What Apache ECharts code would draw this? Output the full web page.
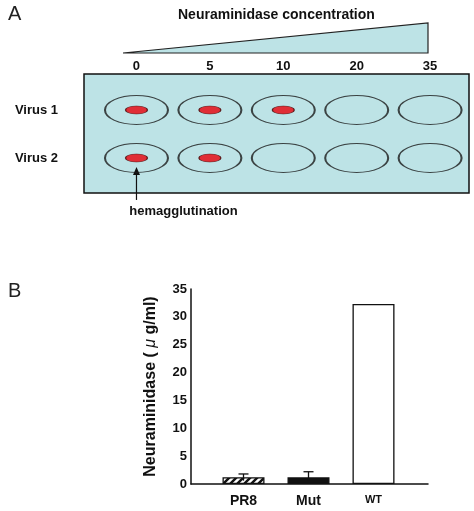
<!DOCTYPE html>
<html>
<head>
<meta charset="utf-8">
<script src="https://cdn.jsdelivr.net/npm/echarts@6/dist/echarts.min.js"></script>
<style>
  html, body { margin: 0; padding: 0; background: #fff; }
  #main { width: 474px; height: 511px; }
</style>
</head>
<body>
<div id="main"></div>
<script>
// panel A
var concLabels = ['0', '5', '10', '20', '35'];
var virusNames = ['Virus 1', 'Virus 2'];
var virus1Agg = [1, 1, 1, 0, 0]; // 1 = hemagglutination
var virus2Agg = [1, 1, 0, 0, 0];
var wedge = [0, 35];
var arrowNote = { text: 'hemagglutination', col: 0, row: 1 };

// panel B
var strains = ['PR8', 'Mut', 'WT'];
var naValues = [1.2, 1.2, 32.3];
var naErrors = [0.6, 1.0, 0];
var yTicks = [0, 5, 10, 15, 20, 25, 30, 35];

var FONT = 'Liberation Sans, Arial, sans-serif';
var PLATE = '#bde3e6';

function hatch() {
	var c = document.createElement('canvas');
	c.width = 7; c.height = 7;
	var ctx = c.getContext('2d');
	ctx.fillStyle = '#fff';
	ctx.fillRect(0, 0, 7, 7);
	ctx.strokeStyle = '#111';
	ctx.lineWidth = 2.4;
	ctx.beginPath();
	ctx.moveTo(-1, 8); ctx.lineTo(8, -1);
	ctx.moveTo(-4, 4); ctx.lineTo(4, -4);
	ctx.moveTo(3, 11); ctx.lineTo(11, 3);
	ctx.stroke();
	return c;
}

var wells = [], dots = [];
[virus1Agg, virus2Agg].forEach(function (row, r) {
	row.forEach(function (v, i) {
		wells.push([i, r]);
		if (v) dots.push([i, r]);
	});
});

var chart = echarts.init(document.getElementById('main'));

chart.setOption({
	animation: false,
	textStyle: { fontFamily: FONT },
	title: [
		{ text: 'A', left: 3, top: -1, textStyle: { fontSize: 20, fontWeight: 'normal', color: '#222', fontFamily: FONT } },
		{ text: 'Neuraminidase concentration', left: 173, top: 3, textStyle: { fontSize: 14, fontWeight: 'bold', color: '#111', fontFamily: FONT } },
		{ text: 'B', left: 3, top: 276, textStyle: { fontSize: 20, fontWeight: 'normal', color: '#222', fontFamily: FONT } }
	],
	grid: [
		{ left: 123, top: 23, width: 305, height: 30 },
		{ left: 84, top: 74, width: 385, height: 119, show: true, backgroundColor: PLATE, borderColor: '#111', borderWidth: 1.5 },
		{ left: 191, top: 289, width: 237, height: 195 },
		{ left: 211, top: 289, width: 195, height: 195 }
	],
	xAxis: [
		{ gridIndex: 0, type: 'value', min: 0, max: 35, show: false },
		{
			gridIndex: 1, type: 'value', position: 'top', min: -0.715, max: 4.53,
			axisLine: { show: false }, axisTick: { show: false }, splitLine: { show: false },
			axisLabel: {
				customValues: [0, 1, 2, 3, 4], margin: 1,
				formatter: function (v) { return concLabels[Math.round(v)]; },
				fontSize: 13, fontWeight: 'bold', color: '#111', fontFamily: FONT
			}
		},
		{
			gridIndex: 2, type: 'category', data: strains,
			axisLine: { lineStyle: { color: '#111', width: 1.5 } },
			axisTick: { show: false }, axisLabel: { show: false }
		},
		{
			gridIndex: 3, type: 'category', data: strains,
			axisLine: { show: false }, axisTick: { show: false },
			axisLabel: {
				margin: 10, color: '#111', fontFamily: FONT,
				formatter: function (v) { return v === 'WT' ? '{s|' + v + '}' : '{b|' + v + '}'; },
				rich: {
					b: { fontSize: 14, fontWeight: 'bold', fontFamily: FONT, color: '#111' },
					s: { fontSize: 11, fontWeight: 'bold', fontFamily: FONT, color: '#111' }
				}
			}
		}
	],
	yAxis: [
		{ gridIndex: 0, type: 'value', min: 0, max: 35, show: false },
		{
			gridIndex: 1, type: 'value', inverse: true, min: -0.75, max: 1.73,
			axisLine: { show: false }, axisTick: { show: false }, splitLine: { show: false },
			axisLabel: {
				customValues: [0, 1], margin: 26,
				formatter: function (v) { return virusNames[Math.round(v)]; },
				fontSize: 13, fontWeight: 'bold', color: '#111', fontFamily: FONT
			}
		},
		{
			gridIndex: 2, type: 'value', min: 0, max: 35, interval: 5,
			axisLine: { show: true, lineStyle: { color: '#111', width: 1.5 } },
			axisTick: { show: false }, splitLine: { show: false },
			axisLabel: {
				customValues: yTicks, margin: 4,
				fontSize: 13, fontWeight: 'bold', color: '#111', fontFamily: FONT
			},
			name: '{a|Neuraminidase ( }{m|μ}{a| g/ml)}',
			nameLocation: 'middle', nameGap: 32,
			nameTextStyle: {
				rich: {
					a: { fontSize: 16, fontWeight: 'bold', fontFamily: FONT, color: '#111' },
					m: { fontSize: 16, fontStyle: 'italic', fontFamily: FONT, color: '#111' }
				}
			}
		},
		{ gridIndex: 3, type: 'value', min: 0, max: 35, show: false }
	],
	series: [
		{
			type: 'custom', xAxisIndex: 0, yAxisIndex: 0, silent: true,
			data: [wedge],
			renderItem: function (params, api) {
				var a = api.coord([wedge[0], 0]);
				var b = api.coord([wedge[1], 0]);
				var c = api.coord([wedge[1], wedge[1]]);
				return {
					type: 'polygon',
					shape: { points: [a, b, c] },
					style: { fill: PLATE, stroke: '#222', lineWidth: 1.2 }
				};
			}
		},
		{
			type: 'scatter', xAxisIndex: 1, yAxisIndex: 1, silent: true,
			data: wells, symbol: 'circle', symbolSize: [63, 29],
			itemStyle: { color: 'rgba(0,0,0,0)', borderColor: '#1a1a1a', borderWidth: 1.4 }
		},
		{
			type: 'scatter', xAxisIndex: 1, yAxisIndex: 1, silent: true,
			data: dots, symbol: 'circle', symbolSize: [22, 8],
			itemStyle: { color: '#e8000a', borderColor: '#400', borderWidth: 0.8 }
		},
		{
			// arrow pointing at the first agglutinated well of virus 2
			type: 'custom', xAxisIndex: 1, yAxisIndex: 1, silent: true, clip: false,
			data: [[arrowNote.col, arrowNote.row]],
			renderItem: function (params, api) {
				var tip = api.coord([api.value(0), api.value(1) + 0.19]);
				var tail = api.coord([api.value(0), api.value(1) + 0.875]);
				var st = { stroke: '#111', lineWidth: 1.2 };
				return {
					type: 'group',
					children: [
						{ type: 'line', shape: { x1: tip[0], y1: tip[1] + 4, x2: tail[0], y2: tail[1] }, style: st },
						{ type: 'polygon', shape: { points: [[tip[0], tip[1]], [tip[0] - 3.5, tip[1] + 8], [tip[0] + 3.5, tip[1] + 8]] }, style: { fill: '#111' } },
						{
							type: 'text', x: tail[0] + 47, y: tail[1] + 11,
							style: { text: arrowNote.text, fontSize: 13, fontWeight: 'bold', fontFamily: FONT, fill: '#111', align: 'center', verticalAlign: 'middle' }
						}
					]
				};
			}
		},
		{
			type: 'bar', xAxisIndex: 3, yAxisIndex: 3, barWidth: 42, silent: true,
			data: naValues.map(function (v, i) {
				var fill = i === 0 ? { image: hatch(), repeat: 'repeat' } : (i === 1 ? '#111' : '#fff');
				return { value: v, itemStyle: { color: fill, borderColor: '#111', borderWidth: 1.3 } };
			})
		},
		{
			type: 'custom', xAxisIndex: 3, yAxisIndex: 3, silent: true, z: 5,
			data: naValues.map(function (v, i) { return [i, v, naErrors[i]]; }),
			renderItem: function (params, api) {
				var err = api.value(2);
				if (!err) return null;
				var top = api.coord([api.value(0), api.value(1) + err]);
				var mid = api.coord([api.value(0), api.value(1) / 2]);
				var st = { stroke: '#111', lineWidth: 1.3 };
				return {
					type: 'group',
					children: [
						{ type: 'line', shape: { x1: top[0], y1: mid[1], x2: top[0], y2: top[1] }, style: st },
						{ type: 'line', shape: { x1: top[0] - 5, y1: top[1], x2: top[0] + 5, y2: top[1] }, style: st }
					]
				};
			}
		}
	]
});
</script>
</body>
</html>
